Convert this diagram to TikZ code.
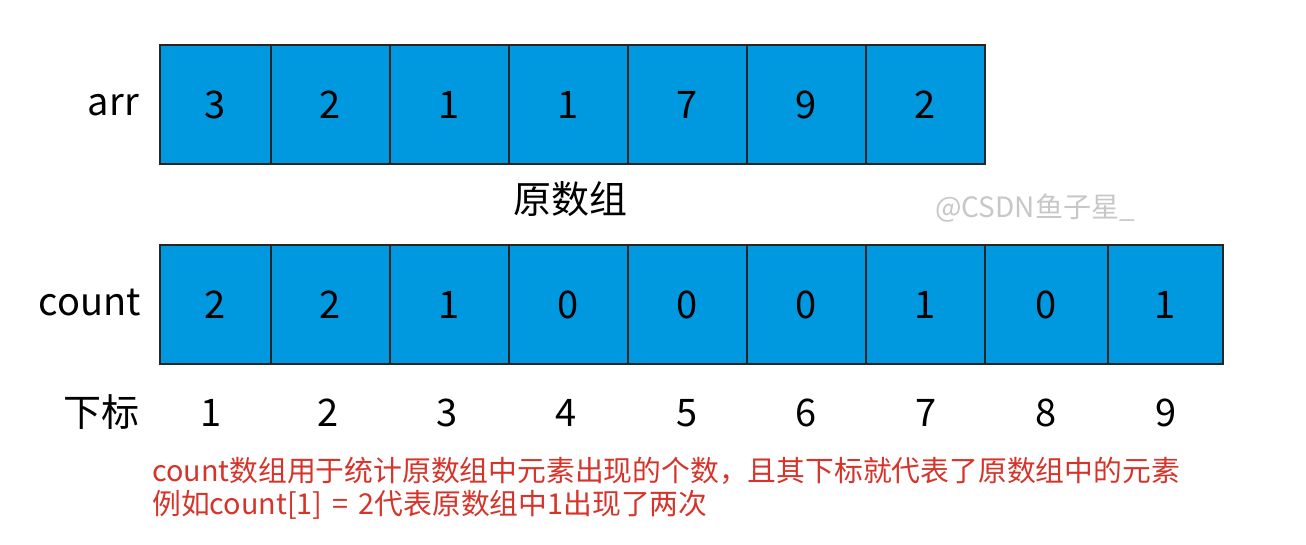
\documentclass[tikz,border=0pt]{standalone}
\usepackage{fontspec}
\setmainfont{Noto Sans CJK SC}
\usepackage{xcolor}
\usetikzlibrary{positioning}
\definecolor{cellblue}{RGB}{0,152,222}
\definecolor{notered}{RGB}{214,52,42}

\begin{document}
\begin{tikzpicture}[x=1pt, y=-1pt, every node/.style={font=\fontsize{38}{40}\selectfont}]
    % Define styles for cells, labels and notes
    \tikzstyle{cell} = [draw=black!85, fill=cellblue, line width=2.2pt, rectangle, minimum height=119pt, minimum width=119pt, inner sep=0pt, outer sep=0pt]
    \tikzstyle{rowlabel} = [anchor=east, inner sep=0pt]
    \tikzstyle{note} = [text=notered, font=\fontsize{28.8}{33}\selectfont, align=left, anchor=west, inner sep=0pt]
    \tikzstyle{watermarktext} = [text=black!22, font=\fontsize{28}{30}\selectfont, anchor=west, inner sep=0pt]

    \useasboundingbox (0,0) rectangle (1306,545);

    % Original array
    \node [cell, minimum width=111pt, anchor=north west] (a1) at (160,45) {3};
    \node [cell, right=0pt of a1] (a2) {2};
    \node [cell, right=0pt of a2] (a3) {1};
    \node [cell, right=0pt of a3] (a4) {1};
    \node [cell, right=0pt of a4] (a5) {7};
    \node [cell, right=0pt of a5] (a6) {9};
    \node [cell, right=0pt of a6] (a7) {2};
    \node [rowlabel] (arrlabel) at (139,105) {arr};

    \node (arrname) at (570,199) {原数组};
    \node [watermarktext] (watermark) at (935,208) {@CSDN鱼子星\_};

    % Count array
    \node [cell, minimum width=111pt, anchor=north west] (c1) at (160,245) {2};
    \node [cell, right=0pt of c1] (c2) {2};
    \node [cell, right=0pt of c2] (c3) {1};
    \node [cell, right=0pt of c3] (c4) {0};
    \node [cell, right=0pt of c4] (c5) {0};
    \node [cell, right=0pt of c5] (c6) {0};
    \node [cell, right=0pt of c6] (c7) {1};
    \node [cell, right=0pt of c7, minimum width=123pt] (c8) {0};
    \node [cell, right=0pt of c8, minimum width=115pt] (c9) {1};
    \node [rowlabel] (countlabel) at (141,303) {count};

    % Indices under the count array
    \node [rowlabel] (indexlabel) at (140,412) {下标};
    \path (c1.south) ++(-4,49) node (i1) {1};
    \path (c2.south) ++(-2,49) node (i2) {2};
    \path (c3.south) ++(-2,49) node (i3) {3};
    \path (c4.south) ++(-2,49) node (i4) {4};
    \path (c5.south) ++(0,49) node (i5) {5};
    \path (c6.south) ++(0,49) node (i6) {6};
    \path (c7.south) ++(1,49) node (i7) {7};
    \path (c8.south) ++(0,49) node (i8) {8};
    \path (c9.south) ++(1,49) node (i9) {9};

    % Explanation
    \node [note] (explain) at (152,488) {count数组用于统计原数组中元素出现的个数，且其下标就代表了原数组中的元素\\例如count[1]\hspace{0.35em}=\hspace{0.35em}2代表原数组中1出现了两次};
\end{tikzpicture}
\end{document}
